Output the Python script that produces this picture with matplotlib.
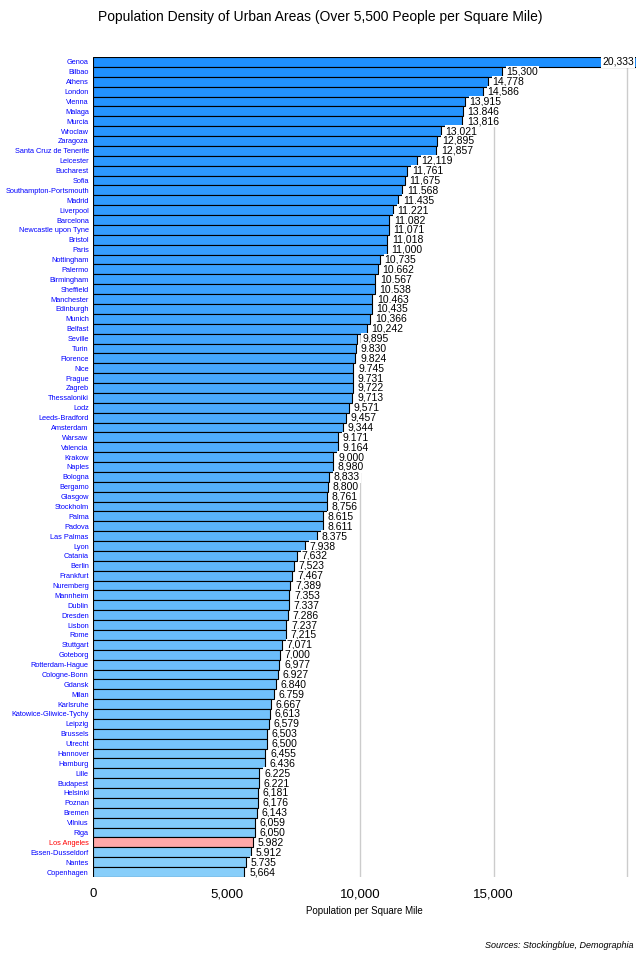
import matplotlib
matplotlib.use("Agg")
import matplotlib.pyplot as plt
import numpy as np
from matplotlib.colors import to_rgb

plt.rcParams["font.family"] = ["Liberation Sans", "DejaVu Sans"]

cities = ["Genoa","Bilbao","Athens","London","Vienna","Malaga","Murcia","Wroclaw","Zaragoza","Santa Cruz de Tenerife",
"Leicester","Bucharest","Sofia","Southampton-Portsmouth","Madrid","Liverpool","Barcelona","Newcastle upon Tyne","Bristol","Paris",
"Nottingham","Palermo","Birmingham","Sheffield","Manchester","Edinburgh","Munich","Belfast","Seville","Turin",
"Florence","Nice","Prague","Zagreb","Thessaloniki","Lodz","Leeds-Bradford","Amsterdam","Warsaw","Valencia",
"Krakow","Naples","Bologna","Bergamo","Glasgow","Stockholm","Palma","Padova","Las Palmas","Lyon",
"Catania","Berlin","Frankfurt","Nuremberg","Mannheim","Dublin","Dresden","Lisbon","Rome","Stuttgart",
"Goteborg","Rotterdam-Hague","Cologne-Bonn","Gdansk","Milan","Karlsruhe","Katowice-Gliwice-Tychy","Leipzig","Brussels","Utrecht",
"Hannover","Hamburg","Lille","Budapest","Helsinki","Poznan","Bremen","Vilnius","Riga","Los Angeles",
"Essen-Dusseldorf","Nantes","Copenhagen"]
values = [20333,15300,14778,14586,13915,13846,13816,13021,12895,12857,
12119,11761,11675,11568,11435,11221,11082,11071,11018,11000,
10735,10662,10567,10538,10463,10435,10366,10242,9895,9830,
9824,9745,9731,9722,9713,9571,9457,9344,9171,9164,
9000,8980,8833,8800,8761,8756,8615,8611,8375,7938,
7632,7523,7467,7389,7353,7337,7286,7237,7215,7071,
7000,6977,6927,6840,6759,6667,6613,6579,6503,6500,
6455,6436,6225,6221,6181,6176,6143,6059,6050,5982,
5912,5735,5664]
highlight = "Los Angeles"

fig = plt.figure(figsize=(6.4, 9.6), dpi=100)
ax = fig.add_axes([0.1453, 0.0865, 0.8487, 0.8541])
n = len(cities)
c0 = np.array(to_rgb("#1E90FF")); c1 = np.array(to_rgb("#87CEFA"))
cols = []
for i, c in enumerate(cities):
    if c == highlight:
        cols.append("#FFA8A8")
    else:
        cols.append(tuple(c0 + (c1 - c0) * i / (n - 1)))
y = np.arange(n)
ax.barh(y, values, height=1.0, color=cols, edgecolor="black", linewidth=0.8, zorder=2)
vmax = max(values)
for yi, v in zip(y, values):
    if v == vmax:
        ax.text(v - 80, yi, f"{v:,}", va="center", ha="right", fontsize=7.5, zorder=3,
                bbox=dict(facecolor="white", edgecolor="none", pad=0.6))
    else:
        ax.text(v + 180, yi, f"{v:,}", va="center", ha="left", fontsize=7.5, zorder=3,
                bbox=dict(facecolor="white", edgecolor="none", pad=0.6))
ax.set_ylim(n - 0.5, -0.5)
ax.set_xlim(0, 20333)
ax.set_yticks(y)
ax.set_yticklabels(cities, fontsize=5.3)
for lbl, c in zip(ax.get_yticklabels(), cities):
    lbl.set_color("red" if c == highlight else "blue")
ax.set_xticks([0, 5000, 10000, 15000, 20000])
ax.set_xticklabels(["0", "5,000", "10,000", "15,000", ""], fontsize=9.5)
ax.tick_params(axis="y", length=0, pad=3)
ax.tick_params(axis="x", length=0, pad=8)
ax.grid(axis="x", color="#cccccc", linewidth=1, zorder=0)
for s in ax.spines.values():
    s.set_visible(False)
ax.set_xlabel("Population per Square Mile", fontsize=7)
fig.text(0.5, 0.982, "Population Density of Urban Areas (Over 5,500 People per Square Mile)",
         ha="center", va="center", fontsize=10)
fig.text(0.99, 0.015, "Sources: Stockingblue, Demographia", ha="right", va="center",
         fontsize=6.5, style="italic")
fig.savefig("out.png", dpi=100)
